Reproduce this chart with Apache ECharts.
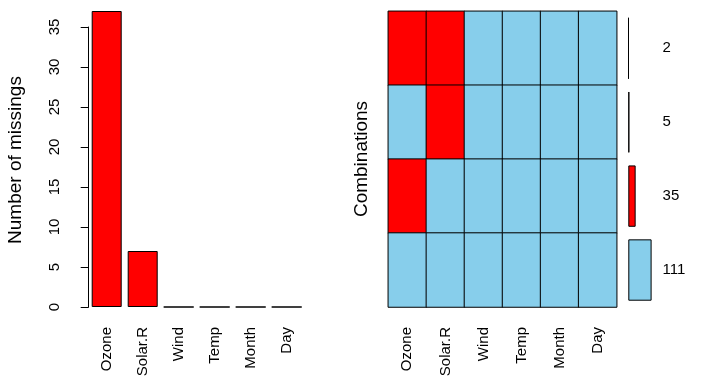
<!DOCTYPE html>
<html>
<head>
<meta charset="utf-8">
<script src="https://cdn.jsdelivr.net/npm/echarts@6/dist/echarts.min.js"></script>
<style>
html,body{margin:0;padding:0;background:#fff;}
#c{width:706px;height:391px;}
</style>
</head>
<body>
<div id="c"></div>
<script>
// ---- data ----
const variables = ['Ozone', 'Solar.R', 'Wind', 'Temp', 'Month', 'Day'];
const missingCounts = [37, 7, 0, 0, 0, 0];
const yTicks = [0, 5, 10, 15, 20, 25, 30, 35];
// combination patterns (1 = missing), top row first
const combo1 = [1, 1, 0, 0, 0, 0];
const combo2 = [0, 1, 0, 0, 0, 0];
const combo3 = [1, 0, 0, 0, 0, 0];
const combo4 = [0, 0, 0, 0, 0, 0];
const comboCounts = [2, 5, 35, 111];

const RED = '#FF0000', BLUE = '#87CEEB';
const FONT = 'Liberation Sans, Arial, sans-serif';

const combos = [combo1, combo2, combo3, combo4];
const heatData = [];
combos.forEach((row, r) => {
  row.forEach((v, c) => {
    heatData.push({ value: [c, r, v], itemStyle: { color: v ? RED : BLUE } });
  });
});
const freqData = comboCounts.map((n, i) => ({
  value: n,
  itemStyle: { color: combos[i].some(v => v) ? RED : BLUE }
}));

const chart = echarts.init(document.getElementById('c'));
const lbl = { fontFamily: FONT, fontSize: 15, color: '#000' };

chart.setOption({
  animation: false,
  backgroundColor: '#fff',
  grid: [
    { left: 88.7, width: 216, top: 11, height: 296 },          // bars
    { left: 88.7, width: 216, top: 27, height: 280 },          // y axis display
    { left: 388.3, width: 228.4, top: 11.3, height: 295.7 },   // heatmap
    { left: 628.3, width: 23.3, top: 11.3, height: 295.7 }     // freq bars
  ],
  xAxis: [
    { gridIndex: 0, type: 'category', data: variables,
      axisLine: { show: false }, axisTick: { show: false },
      axisLabel: { ...lbl, rotate: 90, margin: 20, interval: 0 } },
    { gridIndex: 1, type: 'value', show: false, min: 0, max: 1 },
    { gridIndex: 2, type: 'category', data: variables,
      axisLine: { show: false }, axisTick: { show: false }, splitLine: { show: false },
      axisLabel: { ...lbl, rotate: 90, margin: 20, interval: 0 } },
    { gridIndex: 3, type: 'value', min: 0, max: comboCounts[3], show: false }
  ],
  yAxis: [
    { gridIndex: 0, type: 'value', min: 0, max: 37, show: false },
    { gridIndex: 1, type: 'value', min: yTicks[0], max: yTicks[yTicks.length - 1], interval: 5,
      offset: 6.2,
      axisLine: { show: true, lineStyle: { color: '#000', width: 1 } },
      axisTick: { show: true, length: 8, lineStyle: { color: '#000' } },
      splitLine: { show: false },
      axisLabel: { ...lbl, rotate: 90, margin: 20 } },
    { gridIndex: 2, type: 'category', inverse: true, data: comboCounts.map(String),
      show: false },
    { gridIndex: 3, type: 'category', inverse: true, position: 'right',
      data: comboCounts.map(String),
      axisLine: { show: false }, axisTick: { show: false },
      axisLabel: { ...lbl, margin: 11, align: 'left' } }
  ],
  series: [
    { type: 'bar', xAxisIndex: 0, yAxisIndex: 0, data: missingCounts,
      barWidth: 30,
      itemStyle: { color: RED, borderColor: '#000', borderWidth: 1 } },
    { type: 'heatmap', xAxisIndex: 2, yAxisIndex: 2, data: heatData,
      itemStyle: { borderColor: '#000', borderWidth: 1 } },
    { type: 'bar', xAxisIndex: 3, yAxisIndex: 3, data: freqData,
      barCategoryGap: '17%',
      itemStyle: { borderColor: '#000', borderWidth: 1 } }
  ],
  graphic: [
    { type: 'text', x: 16, y: 160, rotation: Math.PI / 2,
      style: { text: 'Number of missings', font: '19px ' + FONT, fill: '#000',
               textAlign: 'center', textVerticalAlign: 'middle' } },
    { type: 'text', x: 362, y: 159, rotation: Math.PI / 2,
      style: { text: 'Combinations', font: '19px ' + FONT, fill: '#000',
               textAlign: 'center', textVerticalAlign: 'middle' } }
  ]
});
</script>
</body>
</html>
